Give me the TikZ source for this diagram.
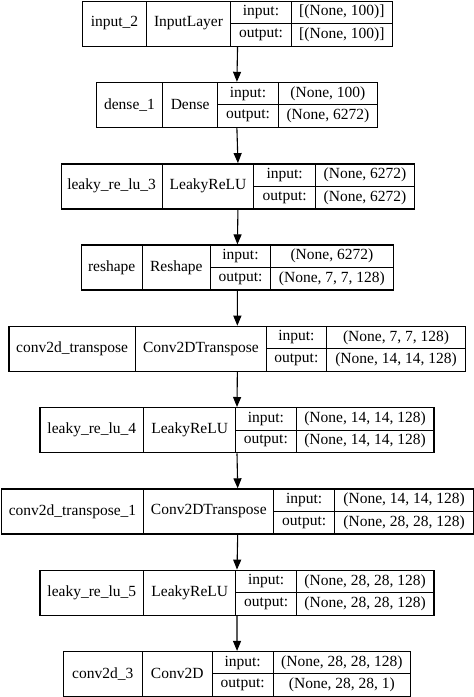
\documentclass[tikz,border=0pt]{standalone}
\usepackage{fontspec}
\setmainfont{Liberation Serif}
\usetikzlibrary{positioning,arrows.meta}

\tikzset{
  cell/.style={draw, line width=1pt, inner sep=0pt, anchor=north west},
  layerbox/.style={draw, line width=1.4pt, inner sep=0pt, anchor=north west, minimum height=45pt},
  flow/.style={-{Triangle[length=10pt,width=8pt]}, line width=1.1pt}
}

\begin{document}
\begin{tikzpicture}[x=1pt, y=-1pt, font=\fontsize{15.5}{17}\selectfont]
\useasboundingbox (0,0) rectangle (474,697);

% layers: name / type / input / output / cell borders
\foreach \nm/\typ/\vin/\vout/\xa/\xb/\xc/\xd/\xe [count=\i, evaluate=\i as \y using 0.5+81.3*(\i-1)] in {
  input\_2/InputLayer/{[(None, 100)]}/{[(None, 100)]}/82/146/230/291/391.7,
  dense\_1/Dense/{(None, 100)}/{(None, 6272)}/95.7/162.3/217/278/376.7,
  leaky\_re\_lu\_3/LeakyReLU/{(None, 6272)}/{(None, 6272)}/60.5/161.7/253.3/315/414,
  reshape/Reshape/{(None, 6272)}/{(None, 7, 7, 128)}/80.7/141.7/210/270/392.7,
  conv2d\_transpose/Conv2DTranspose/{(None, 7, 7, 128)}/{(None, 14, 14, 128)}/8.3/135/265.7/326/465,
  leaky\_re\_lu\_4/LeakyReLU/{(None, 14, 14, 128)}/{(None, 14, 14, 128)}/39.3/143.3/235/295.7/433.3,
  conv2d\_transpose\_1/Conv2DTranspose/{(None, 14, 14, 128)}/{(None, 28, 28, 128)}/0.7/143.3/273.3/334/473.3,
  leaky\_re\_lu\_5/LeakyReLU/{(None, 28, 28, 128)}/{(None, 28, 28, 128)}/39.3/143.3/235.3/296/433.3,
  conv2d\_3/Conv2D/{(None, 28, 28, 128)}/{(None, 28, 28, 1)}/62.7/141.7/211.7/272.7/410%
}{
  \node[cell, minimum width={(\xb-\xa)*1pt}, minimum height=45pt] (L\i-name) at (\xa,\y) {\nm};
  \node[cell, minimum width={(\xc-\xb)*1pt}, minimum height=45pt] (L\i-type) at (\xb,\y) {\typ};
  \node[cell, minimum width={(\xd-\xc)*1pt}, minimum height=22.5pt] (L\i-ki) at (\xc,\y) {input:};
  \node[cell, minimum width={(\xd-\xc)*1pt}, minimum height=22.5pt] (L\i-ko) at (\xc,\y+22.5) {output:};
  \node[cell, minimum width={(\xe-\xd)*1pt}, minimum height=22.5pt] (L\i-vi) at (\xd,\y) {\vin};
  \node[cell, minimum width={(\xe-\xd)*1pt}, minimum height=22.5pt] (L\i-vo) at (\xd,\y+22.5) {\vout};
  \node[layerbox, minimum width={(\xe-\xa)*1pt}] (L\i) at (\xa,\y) {};
}

% Arrows
\foreach \i [evaluate=\i as \j using int(\i+1)] in {1,...,8}
  \draw[flow] (L\i.south) -- (L\j.north);
\end{tikzpicture}
\end{document}
